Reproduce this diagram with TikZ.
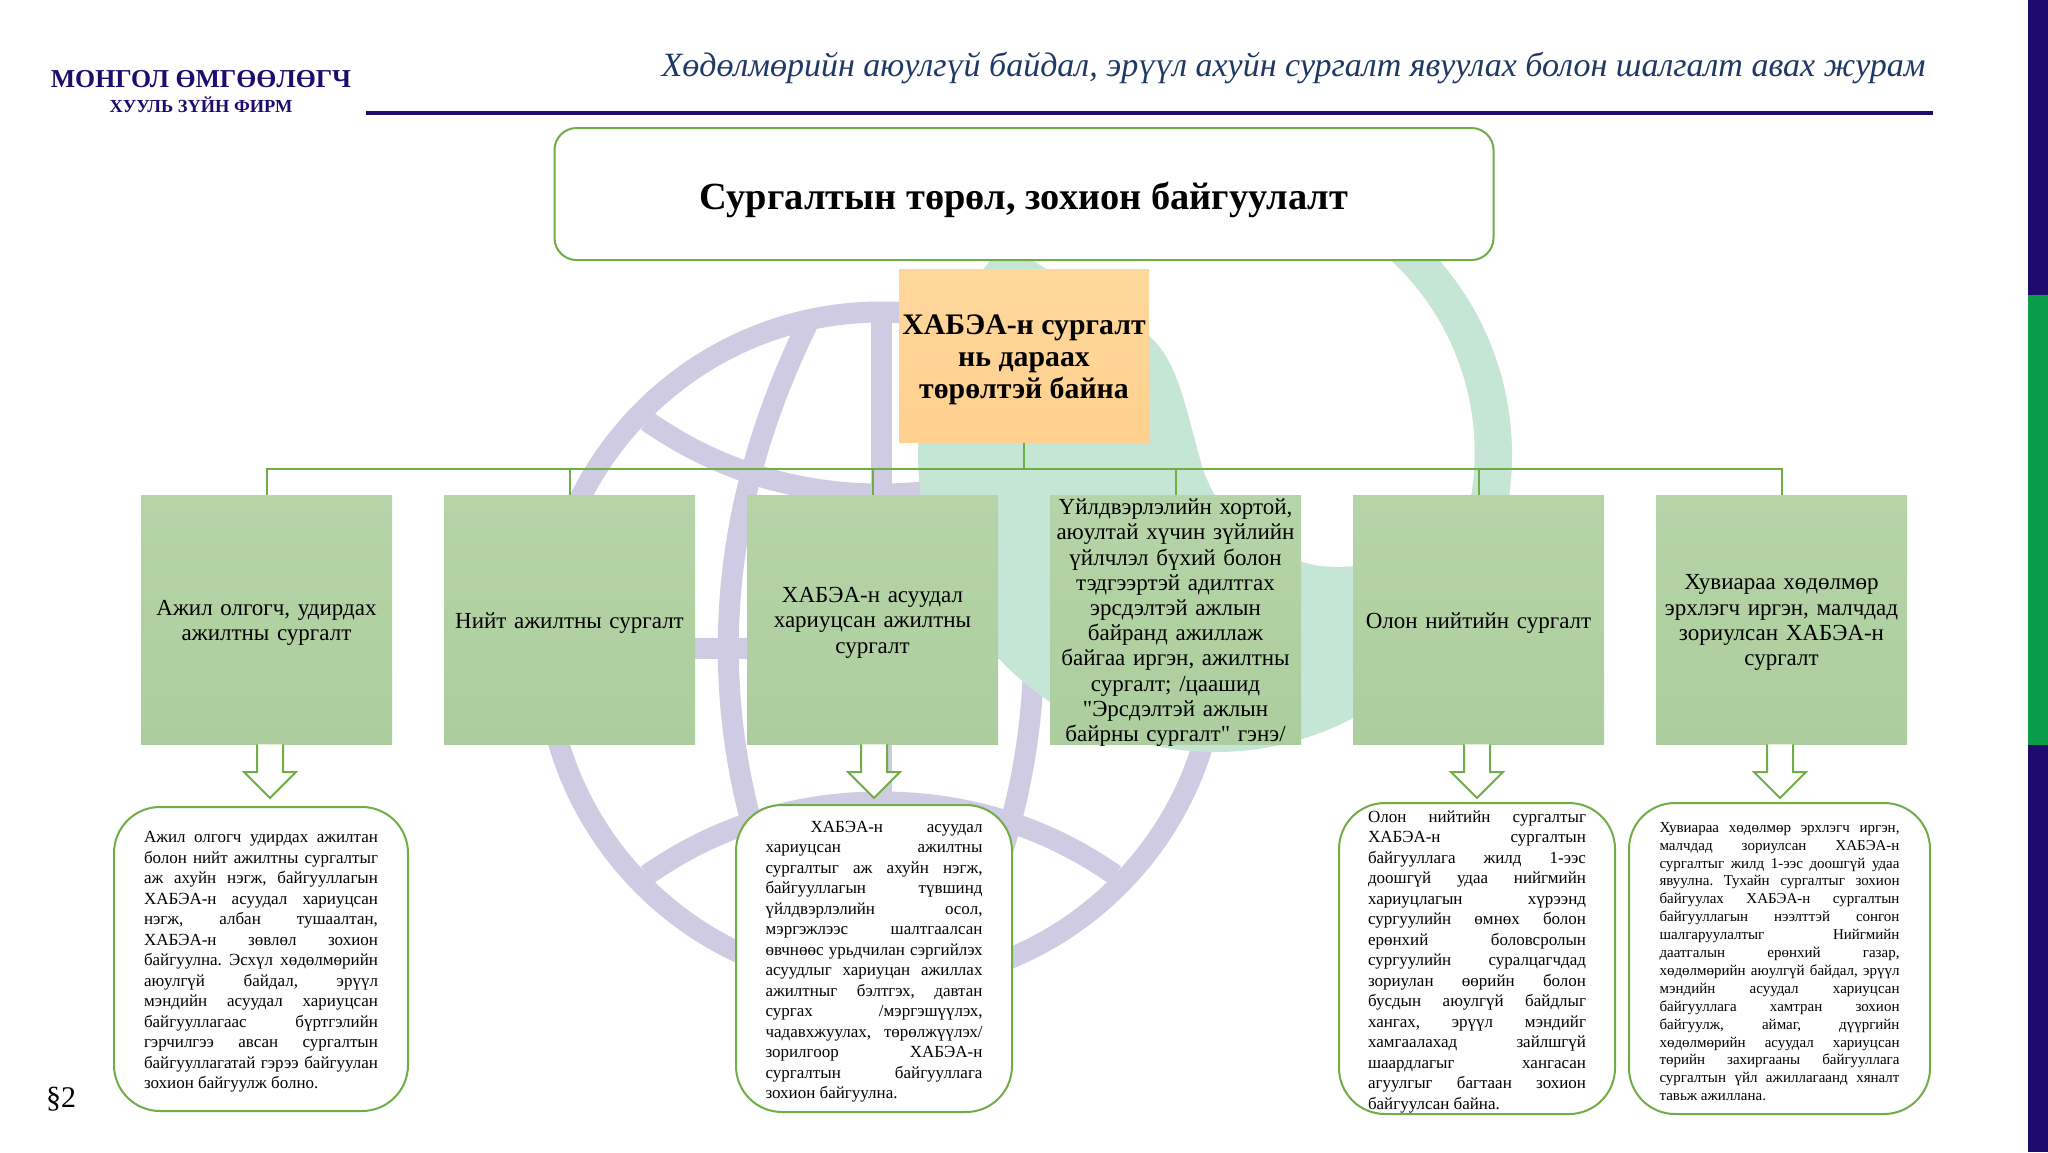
\documentclass[tikz,border=0pt]{standalone}
\usepackage{fontspec}
\setmainfont{Liberation Serif}
\newfontfamily\plainfont{Liberation Serif}
\usetikzlibrary{calc}
\tolerance=10000
\hbadness=10000
\hfuzz=20pt
\hyphenpenalty=10000
\frenchspacing
\definecolor{navy}{HTML}{1F0A6E}
\definecolor{slate}{HTML}{1F3864}
\definecolor{sidegreen}{HTML}{0B9C4A}
\definecolor{linegreen}{HTML}{70AD47}
\definecolor{globeblue}{HTML}{CECBE2}
\definecolor{markgreen}{HTML}{C5E5D5}
\definecolor{orange1}{HTML}{FFD89C}
\definecolor{orange2}{HTML}{FFD08E}
\definecolor{green1}{HTML}{B5D5A8}
\definecolor{green2}{HTML}{ACCD9D}
\tikzset{
	link/.style={draw=linegreen, line width=1pt},
	hollow/.style={draw=linegreen, fill=white, line width=1pt},
	globeline/.style={draw=globeblue, line width=10.5pt},
	titlebox/.style={draw=linegreen, fill=white, line width=1pt, rounded corners=11pt, minimum width=469.5pt, minimum height=66pt},
	titletext/.style={yshift=-3pt, font=\fontsize{19.2}{22}\selectfont\bfseries},
	headbox/.style={top color=orange1, bottom color=orange2, minimum width=125pt, minimum height=86.5pt, inner sep=0pt},
	headtext/.style={yshift=-2pt, inner sep=0pt, align=center, font=\fontsize{14.9}{16}\selectfont\bfseries},
	typebox/.style={top color=green1, bottom color=green2, minimum width=125.5pt, minimum height=124.5pt, inner sep=0pt},
	typetext/.style={yshift=-1.6pt, inner sep=0pt, text width=122pt, align=center, font=\fontsize{11.5}{12.6}\selectfont},
	detailbox/.style={draw=linegreen, fill=white, line width=1pt, rounded corners=23pt, inner sep=0pt},
	detailtext/.style={yshift=-1.6pt, inner sep=0pt, align=justify, font=\fontsize{8.5}{10.25}\selectfont},
}
\def\hollowarrow(#1)(#2){\draw[hollow] ($(#1 |- #2.south)+(-13,0)$) -- ($(#1)+(-13,-26)$) -- ($(#1)+(-26,-26)$) -- (#1) -- ($(#1)+(26,-26)$) -- ($(#1)+(13,-26)$) -- ($(#1 |- #2.south)+(13,0)$);}

\begin{document}
\begin{tikzpicture}[x=0.5pt, y=-0.5pt]
	%%%%% START %%%%%
	\useasboundingbox (0, 0) rectangle (2048, 1152);
	\fill[white] (0, 0) rectangle (2048, 1152);

	\fill[navy] (2028, 0) rectangle (2048, 1152);
	\fill[sidegreen] (2028, 295) rectangle (2048, 745);

	\node[text=navy, font=\fontsize{12.9}{15}\selectfont\bfseries] (firm) at (201, 79) {МОНГОЛ ӨМГӨӨЛӨГЧ};
	\node[text=navy, font=\fontsize{9.2}{10}\selectfont\bfseries] (firmsub) at (201, 105) {ХУУЛЬ ЗҮЙН ФИРМ};
	\node[text=slate, anchor=east, inner sep=0pt, font=\fontsize{17}{20}\selectfont\itshape] (doctitle) at (1926, 68) {Хөдөлмөрийн аюулгүй байдал, эрүүл ахуйн сургалт явуулах болон шалгалт авах журам};
	\draw[navy, line width=1.7pt] (366, 113) -- (1933, 113);
	\node[font=\fontsize{15}{17}\selectfont] (section) at (61, 1099) {§2};

	%%%%% globe %%%%%
	\draw[globeline] (881, 648) circle (336);
	\draw[globeline] (881, 313) -- (881, 984);
	\draw[globeline] (545, 648) -- (1217, 648);
	\draw[globeline] (807, 325) .. controls (702, 540) and (702, 756) .. (807, 971);
	\draw[globeline] (955, 325) .. controls (1060, 540) and (1060, 756) .. (955, 971);
	\draw[globeline] (647, 421) .. controls (720, 472) and (800, 494) .. (881, 494) .. controls (962, 494) and (1042, 472) .. (1115, 421);
	\draw[globeline] (647, 875) .. controls (720, 824) and (800, 802) .. (881, 802) .. controls (962, 802) and (1042, 824) .. (1115, 875);

	%%%%% green mark %%%%%
	\fill[markgreen] (1215, 455) circle (297);
	\fill[white] (1034, 261) arc (227:372.3:262) .. controls (1420, 560) and (1370, 570) .. (1320, 566) .. controls (1260, 555) and (1222, 520) .. (1204, 472) .. controls (1185, 410) and (1180, 360) .. (1146, 333) .. controls (1110, 305) and (1070, 285) .. (1034, 261) -- cycle;

	\node[titlebox, label={[titletext]center:{Сургалтын төрөл, зохион байгуулалт}}] (title) at (1024, 194) {};
	\node[headbox, label={[headtext]center:{ХАБЭА-н сургалт\\нь дараах\\төрөлтэй байна}}] (head) at (1024, 356) {};

	\node[typebox, label={[typetext]center:{Ажил олгогч, удирдах ажилтны сургалт}}] (type1) at (266.5, 619.5) {};
	\node[typebox, label={[typetext]center:{Нийт ажилтны сургалт}}] (type2) at (569.5, 619.5) {};
	\node[typebox, label={[typetext]center:{ХАБЭА-н асуудал\\хариуцсан ажилтны\\сургалт}}] (type3) at (872.5, 619.5) {};
	\node[typebox, label={[typetext]center:{Үйлдвэрлэлийн хортой,\\аюултай хүчин зүйлийн\\үйлчлэл бүхий болон\\тэдгээртэй адилтгах\\эрсдэлтэй ажлын\\байранд ажиллаж\\байгаа иргэн, ажилтны\\сургалт; /цаашид\\{\plainfont"}Эрсдэлтэй ажлын\\байрны сургалт{\plainfont"} гэнэ/}}] (type4) at (1175.5, 619.5) {};
	\node[typebox, label={[typetext]center:{Олон нийтийн сургалт}}] (type5) at (1478.5, 619.5) {};
	\node[typebox, label={[typetext]center:{Хувиараа хөдөлмөр\\эрхлэгч иргэн, малчдад\\зориулсан ХАБЭА-н\\сургалт}}] (type6) at (1781.5, 619.5) {};

	\coordinate (bus) at (1024, 469);
	\draw[link] (head.south) -- (bus);
	\foreach \i in {1,...,6}
		\draw[link] (type\i.north) |- (bus);

	\node[detailbox, minimum width=147pt, minimum height=152pt, label={[detailtext, text width=117pt]center:{Ажил олгогч удирдах ажилтан\linebreak болон нийт ажилтны сургалтыг\linebreak аж ахуйн нэгж, байгууллагын\linebreak ХАБЭА-н асуудал хариуцсан\linebreak нэгж, албан тушаалтан,\linebreak ХАБЭА-н зөвлөл зохион\linebreak байгуулна. Эсхүл хөдөлмөрийн\linebreak аюулгүй байдал, эрүүл\linebreak мэндийн асуудал хариуцсан\linebreak байгууллагаас бүртгэлийн\linebreak гэрчилгээ авсан сургалтын\linebreak байгууллагатай гэрээ байгуулан\linebreak зохион байгуулж болно.}}] (detail1) at (261, 959) {};
	\node[detailbox, minimum width=138pt, minimum height=153.5pt, label={[detailtext, text width=108.5pt]center:{\hspace*{22.5pt}ХАБЭА-н асуудал\linebreak хариуцсан ажилтны\linebreak сургалтыг аж ахуйн нэгж,\linebreak байгууллагын түвшинд\linebreak үйлдвэрлэлийн осол,\linebreak мэргэжлээс шалтгаалсан\linebreak өвчнөөс урьдчилан сэргийлэх\linebreak асуудлыг хариуцан ажиллах\linebreak ажилтныг бэлтгэх, давтан\linebreak сургах /мэргэшүүлэх,\linebreak чадавхжуулах, төрөлжүүлэх/\linebreak зорилгоор ХАБЭА-н\linebreak сургалтын байгууллага\linebreak зохион байгуулна.}}] (detail3) at (874, 958.5) {};
	\node[detailbox, minimum width=138pt, minimum height=155.5pt, label={[detailtext, text width=109pt]center:{Олон нийтийн сургалтыг\linebreak ХАБЭА-н сургалтын\linebreak байгууллага жилд 1-ээс\linebreak доошгүй удаа нийгмийн\linebreak хариуцлагын хүрээнд\linebreak сургуулийн өмнөх болон\linebreak ерөнхий боловсролын\linebreak сургуулийн суралцагчдад\linebreak зориулан өөрийн болон\linebreak бусдын аюулгүй байдлыг\linebreak хангах, эрүүл мэндийг\linebreak хамгаалахад зайлшгүй\linebreak шаардлагыг хангасан\linebreak агуулгыг багтаан зохион\linebreak байгуулсан байна.}}] (detail5) at (1477, 958.5) {};
	\node[detailbox, minimum width=150.5pt, minimum height=155.5pt, label={[detailtext, text width=120pt, font=\fontsize{7.5}{8.95}\selectfont]center:{Хувиараа хөдөлмөр эрхлэгч иргэн,\linebreak малчдад зориулсан ХАБЭА-н\linebreak сургалтыг жилд 1-ээс доошгүй удаа\linebreak явуулна. Тухайн сургалтыг зохион\linebreak байгуулах ХАБЭА-н сургалтын\linebreak байгууллагын нээлттэй сонгон\linebreak шалгаруулалтыг Нийгмийн\linebreak даатгалын ерөнхий газар,\linebreak хөдөлмөрийн аюулгүй байдал, эрүүл\linebreak мэндийн асуудал хариуцсан\linebreak байгууллага хамтран зохион\linebreak байгуулж, аймаг, дүүргийн\linebreak хөдөлмөрийн асуудал хариуцсан\linebreak төрийн захиргааны байгууллага\linebreak сургалтын үйл ажиллагаанд хяналт\linebreak тавьж ажиллана.}}] (detail6) at (1779.5, 958.5) {};

	\coordinate (tip1) at (270, 798);
	\coordinate (tip3) at (874, 798);
	\coordinate (tip5) at (1477, 798);
	\coordinate (tip6) at (1780, 798);
	\hollowarrow(tip1)(type1)
	\hollowarrow(tip3)(type3)
	\hollowarrow(tip5)(type5)
	\hollowarrow(tip6)(type6)
	%%%%% END %%%%%
\end{tikzpicture}
\end{document}
